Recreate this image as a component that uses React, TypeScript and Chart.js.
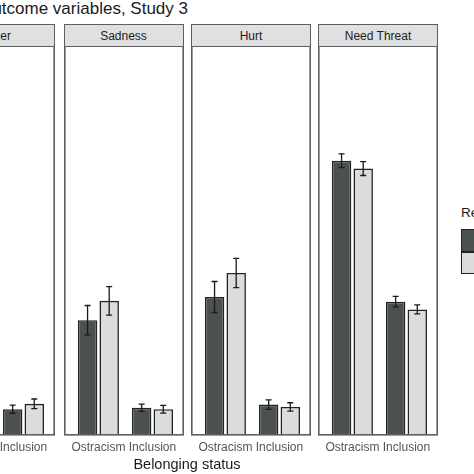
import { useEffect, useRef } from "react";
import { Chart, registerables } from "chart.js";

Chart.register(...registerables);

// Facets and categories
const facets = ["Anger", "Sadness", "Hurt", "Need Threat"];
const statuses = ["Ostracism", "Inclusion"];
const seriesNames = ["Friend", "Stranger"];
const legendTitle = "Relationship";

// Means per facet: [Ostracism, Inclusion]
const meansDark = [
  [1.2, 0.32],
  [1.47, 0.34],
  [1.77, 0.38],
  [3.53, 1.71],
];
const meansLight = [
  [1.45, 0.39],
  [1.72, 0.32],
  [2.08, 0.35],
  [3.43, 1.61],
];
// Standard errors per facet: [Ostracism, Inclusion]
const seDark = [
  [0.15, 0.052],
  [0.19, 0.047],
  [0.2, 0.062],
  [0.088, 0.067],
];
const seLight = [
  [0.15, 0.062],
  [0.185, 0.05],
  [0.19, 0.054],
  [0.09, 0.057],
];

const Y_MAX = 5;

const FONT = '"Liberation Sans", Arial, Helvetica, sans-serif';
const DARK = "#4b5050";
const LIGHT = "#dcdcdc";
const OUTLINE = "#222424";
const FRAME = "#5e5e5e";

const PANEL_LEFTS = [-65, 63.5, 191, 318];
const PANEL_W = 120;
const STRIP_TOP = 24;
const STRIP_H = 23;
const CANVAS_H = 427;

const errorBars = {
  id: "errorBars",
  afterDatasetsDraw(chart: any) {
    const ctx = chart.ctx;
    const y = chart.scales.y;
    ctx.save();
    ctx.strokeStyle = "#1a1a1a";
    ctx.lineWidth = 1.3;
    chart.data.datasets.forEach((ds: any, di: number) => {
      const meta = chart.getDatasetMeta(di);
      meta.data.forEach((el: any, i: number) => {
        const m = ds.data[i];
        const se = ds.errors[i];
        const top = y.getPixelForValue(m + se);
        const bot = y.getPixelForValue(m - se);
        const x = el.x;
        ctx.beginPath();
        ctx.moveTo(x, top);
        ctx.lineTo(x, bot);
        ctx.moveTo(x - 3, top);
        ctx.lineTo(x + 3, top);
        ctx.moveTo(x - 3, bot);
        ctx.lineTo(x + 3, bot);
        ctx.stroke();
      });
    });
    ctx.restore();
  },
};

const panelFrame = {
  id: "panelFrame",
  afterDraw(chart: any) {
    const ctx = chart.ctx;
    const a = chart.chartArea;
    ctx.save();
    ctx.strokeStyle = FRAME;
    ctx.lineWidth = 1.6;
    ctx.strokeRect(0.8, -1, chart.width - 1.6, a.bottom + 1.8);
    ctx.restore();
  },
};

function Facet({ index }: { index: number }) {
  const ref = useRef<HTMLCanvasElement | null>(null);
  useEffect(() => {
    if (!ref.current) return;
    const chart = new Chart(ref.current, {
      type: "bar",
      data: {
        labels: statuses,
        datasets: [
          {
            label: seriesNames[0],
            data: meansDark[index],
            errors: seDark[index],
            backgroundColor: DARK,
            borderColor: OUTLINE,
            borderWidth: 1.6,
            borderSkipped: "start",
            categoryPercentage: 0.8,
            barPercentage: 0.9,
          } as any,
          {
            label: seriesNames[1],
            data: meansLight[index],
            errors: seLight[index],
            backgroundColor: LIGHT,
            borderColor: OUTLINE,
            borderWidth: 1.6,
            borderSkipped: "start",
            categoryPercentage: 0.8,
            barPercentage: 0.9,
          } as any,
        ],
      },
      options: {
        responsive: false,
        animation: false,
        layout: { padding: { left: 5.5, right: 4.5, top: 0, bottom: 0 } },
        plugins: { legend: { display: false }, tooltip: { enabled: false } },
        scales: {
          x: {
            grid: { display: false, drawTicks: false },
            border: { display: false },
            ticks: {
              color: "#555555",
              font: { family: FONT, size: 12 },
              padding: 6,
              maxRotation: 0,
              autoSkip: false,
            },
            afterFit: (s: any) => {
              s.height = 40;
            },
          },
          y: { display: false, min: 0, max: Y_MAX },
        },
      },
      plugins: [errorBars, panelFrame],
    });
    return () => chart.destroy();
  }, [index]);

  const left = PANEL_LEFTS[index];
  return (
    <>
      <div
        style={{
          position: "absolute",
          left,
          top: STRIP_TOP,
          width: PANEL_W,
          height: STRIP_H,
          boxSizing: "border-box",
          border: `1.6px solid ${FRAME}`,
          background: "#e0e0e0",
          display: "flex",
          alignItems: "center",
          justifyContent: "center",
          fontSize: 12,
          color: "#222",
          whiteSpace: "nowrap",
        }}
      >
        {facets[index]}
      </div>
      <canvas
        ref={ref}
        width={PANEL_W}
        height={CANVAS_H}
        style={{
          position: "absolute",
          left,
          top: STRIP_TOP + STRIP_H,
          width: PANEL_W,
          height: CANVAS_H,
        }}
      />
    </>
  );
}

export default function App() {
  return (
    <div
      style={{
        position: "fixed",
        left: 0,
        top: 0,
        width: 474,
        height: 474,
        overflow: "hidden",
        background: "#ffffff",
        fontFamily: FONT,
      }}
    >
      <div
        style={{
          position: "absolute",
          right: 474 - 188,
          top: 0,
          fontSize: 17,
          lineHeight: "17px",
          color: "#1a1a1a",
          whiteSpace: "nowrap",
        }}
      >
        Outcome variables, Study 3
      </div>
      {facets.map((_, i) => (
        <Facet key={i} index={i} />
      ))}
      <div
        style={{
          position: "absolute",
          left: 187,
          top: 457,
          transform: "translateX(-50%)",
          fontSize: 14.5,
          lineHeight: "14.5px",
          color: "#1a1a1a",
          whiteSpace: "nowrap",
        }}
      >
        Belonging status
      </div>
      <div
        style={{
          position: "absolute",
          left: 461,
          top: 206,
          fontSize: 13.5,
          lineHeight: "13.5px",
          color: "#1a1a1a",
          whiteSpace: "nowrap",
        }}
      >
        {legendTitle}
      </div>
      {[DARK, LIGHT].map((c, i) => (
        <div
          key={c}
          style={{
            position: "absolute",
            left: 461,
            top: 229 + i * 22.5,
            width: 18,
            height: 22.5,
            boxSizing: "border-box",
            border: `1.5px solid ${OUTLINE}`,
            background: c,
          }}
        />
      ))}
    </div>
  );
}
